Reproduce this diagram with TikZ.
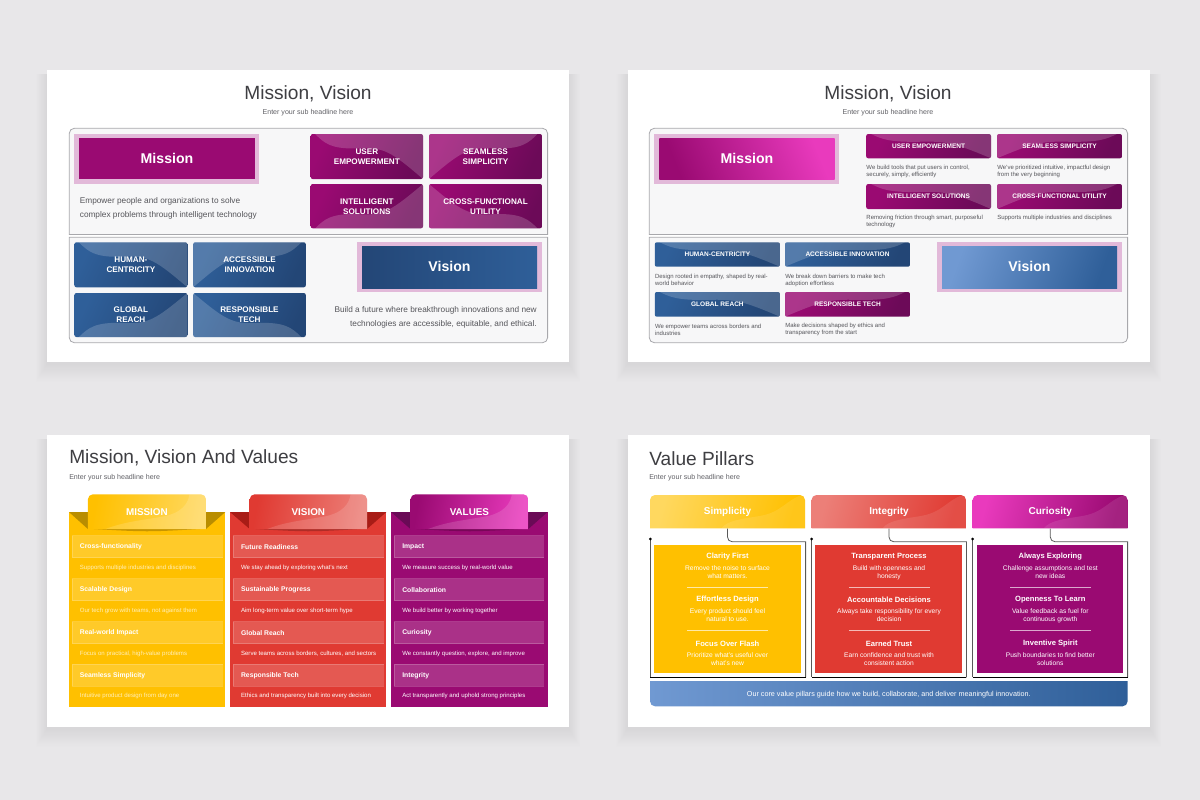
\documentclass[tikz,border=0pt]{standalone}
\usepackage{fontspec}
\setmainfont{Liberation Sans}
\definecolor{bgc}{HTML}{E8E7E9}
\definecolor{ink}{HTML}{3E3E42}
\definecolor{subink}{HTML}{616166}
\definecolor{para}{HTML}{55555A}
\definecolor{boxline}{HTML}{A8A8AC}
\definecolor{boxfill}{HTML}{F7F7F8}
\definecolor{framec}{HTML}{E2B9D9}
\definecolor{purp}{HTML}{9A0A72}
\definecolor{purpd}{HTML}{6C0A58}
\definecolor{purpb}{HTML}{E93ABD}
\definecolor{blu}{HTML}{2F5F99}
\definecolor{blud}{HTML}{234676}
\definecolor{blul}{HTML}{7099D2}
\definecolor{yel}{HTML}{FFC000}
\definecolor{yell}{HTML}{FFD85F}
\definecolor{yeld}{HTML}{B98D00}
\definecolor{redc}{HTML}{E03A32}
\definecolor{redl}{HTML}{EC7F78}
\definecolor{redd}{HTML}{A81C16}
\definecolor{purf}{HTML}{6A0A56}
\definecolor{yeltxt}{HTML}{FFEFB8}
\tikzset{
  ttl/.style={font=\fontsize{14.35}{16}\selectfont,text=ink,inner sep=0pt},
  subttl/.style={font=\fontsize{5.3}{7}\selectfont,text=subink,inner sep=0pt},
  bigh/.style={font=\bfseries\fontsize{10.6}{12}\selectfont,text=white,inner sep=0pt},
  tiletxt/.style={font=\bfseries\fontsize{6.1}{7.5}\selectfont,text=white,inner sep=0pt,align=center},
  tiletxts/.style={font=\bfseries\fontsize{4.9}{7}\selectfont,text=white,inner sep=0pt,align=center},
  leadp/.style={font=\fontsize{6.2}{10.5}\selectfont,text=para,inner sep=0pt},
  descp/.style={font=\fontsize{4.5}{5.25}\selectfont,text=para,inner sep=0pt,align=left,anchor=west},
  tabh/.style={font=\bfseries\fontsize{7.4}{9}\selectfont,text=white,inner sep=0pt},
  rowh/.style={font=\bfseries\fontsize{5.1}{7}\selectfont,text=white,inner sep=0pt,anchor=west},
  rowd/.style={font=\fontsize{4.55}{6}\selectfont,inner sep=0pt,anchor=west},
  pilh/.style={font=\bfseries\fontsize{7.5}{10}\selectfont,text=white,inner sep=0pt},
  itmh/.style={font=\bfseries\fontsize{5.7}{7}\selectfont,text=white,inner sep=0pt},
  itmd/.style={font=\fontsize{5}{6}\selectfont,text=white,inner sep=0pt,align=center},
  barh/.style={font=\fontsize{5.4}{7}\selectfont,text=white,inner sep=0pt},
  gradpurple/.style={left color=purp,right color=purpd,shading angle=65},
  gradblue/.style={left color=blu,right color=blud,shading angle=65},
  conn/.style={draw=black!65,line width=.6pt},
  connb/.style={draw=black,line width=.75pt},
  wave/.style={fill=white,fill opacity=#1,draw=none},
}
% x0, x1, y of rounded side, y of flat side, rx, ry (signed towards the flat side)
\newcommand{\rpath}[6]{(#1,#4) -- (#1,#3+#6) .. controls (#1,#3+.45*#6) and (#1+.45*#5,#3) .. (#1+#5,#3) -- (#2-#5,#3) .. controls (#2-.45*#5,#3) and (#2,#3+.45*#6) .. (#2,#3+#6) -- (#2,#4) -- cycle}
\newcommand{\slide}[4]{%
  \foreach \i in {1,...,16}{\fill[black,opacity=.003] (#1-\i*.7,#2+4) rectangle (#3+\i*.7,#4+\i*1.1+2);}
  \fill[white] (#1,#2) rectangle (#3,#4);}
\newcommand{\wavetile}[8]{%
  \begin{scope}
  \pgfmathsetmacro\tW{#4-#2}\pgfmathsetmacro\tH{#5-#3}
  \clip[rounded corners=1.5pt] (#2,#3) rectangle (#4,#5);
  \shade[#6] (#2,#3) rectangle (#4,#5);
  \pgfmathsetmacro\ox{#2+(1-(#7))/2*\tW}\pgfmathsetmacro\oy{#3+(1-(#8))/2*\tH}
  \pgfmathsetmacro\sx{(#7)*\tW}\pgfmathsetmacro\sy{(#8)*\tH}
  \begin{scope}[shift={(\ox,\oy)},xscale=\sx,yscale=\sy]
   \fill[wave=.18] (.04,0) .. controls (.12,.2) and (.18,.34) .. (.42,.32)
      .. controls (.65,.28) and (.72,.4) .. (1,1) -- (1,0) -- cycle;
  \end{scope}
  \end{scope}}
\newcommand{\tilelabel}[7]{%
  \node[#6] (#1) at ({(#2+#4)/2},{(#3+#5)/2}) {#7};}
\newcommand{\valcol}[9]{%
  \fill[#6] (#2,512) rectangle (#3,707);
  \fill[#7] (#2,512) -- (#4,512) -- (#4,529) -- cycle;
  \fill[#7] (#3,512) -- (#5,512) -- (#5,529) -- cycle;
  \fill[black,opacity=.22] (#4+6,529) .. controls ({(#4+#5)/2},532) .. (#5-6,529) -- cycle;
  \begin{scope}
   \clip \rpath{#4}{#5}{494.3}{529}{5}{5};
   \shade[left color=#6,right color=#8,shading angle=80] (#4,494.3) rectangle (#5,529);
   \pgfmathsetmacro\tW{#5-#4}
   \begin{scope}[shift={(#4,494.3)},xscale=\tW,yscale=34.7]
    \fill[wave=.14] (.15,1) .. controls (.3,.8) and (.45,.75) .. (.62,.65)
      .. controls (.8,.55) and (.85,.25) .. (.86,0) -- (1,0) -- (1,1) -- cycle;
   \end{scope}
  \end{scope}
  \node[tabh] (#1) at ({(#4+#5)/2},511.7) {#9};}
\newcommand{\valrow}[8]{%
  \fill[white,opacity=.16] (#2,#4) rectangle (#3,#4+22);
  \draw[white,opacity=.2,line width=.45pt] (#3,#4) -- (#2,#4) -- (#2,#4+22) -- (#3,#4+22);
  \node[rowh] (#1h) at (#7,#4+11) {#5};
  \node[rowd,text=#8] (#1d) at (#7,#4+32) {#6};}
\newcommand{\pillar}[7]{%
  \begin{scope}
   \clip \rpath{#1}{#2}{495}{528.3}{5}{5};
   \shade[left color=#3,right color=#4,shading angle=75] (#1,495) rectangle (#2,528.3);
   \pgfmathsetmacro\tW{#2-#1}
   \begin{scope}[shift={(#1,495)},xscale=\tW,yscale=33.3]
    \fill[wave=.1] (.46,1) .. controls (.5,.75) and (.6,.72) .. (.72,.62)
      .. controls (.85,.5) and (.88,.15) .. (.98,0) -- (1,0) -- (1,1) -- cycle;
   \end{scope}
  \end{scope}
  \fill[#7] (#5,545) rectangle (#6,673.3);}
\begin{document}
\begin{tikzpicture}[x=.75pt,y=-.75pt]
\useasboundingbox (0,0) rectangle (1200,800);
\fill[bgc] (0,0) rectangle (1200,800);
\slide{47}{70}{569}{362}
\slide{627.5}{70}{1150}{362}
\slide{47}{435}{569}{727}
\slide{627.5}{435}{1150}{727}

%% ---------- Slide 1
\node[ttl] (t1) at (308,93.5) {Mission, Vision};
\node[subttl] (s1) at (308,113) {Enter your sub headline here};
\draw[boxline,fill=boxfill,line width=.6pt] \rpath{69.3}{547.6}{128.3}{234.5}{5}{5};
\draw[boxline,fill=boxfill,line width=.6pt] \rpath{69.3}{547.6}{342.7}{237.3}{5}{-5};
\fill[framec] (74.4,134) rectangle (259,184);
\fill[purp] (79.3,138) rectangle (254.5,179.3);
\node[bigh] (m1) at (167,158) {Mission};
\node[leadp,align=left,anchor=west] (mt1) at (79.6,208) {Empower people and organizations to solve\\complex problems through intelligent technology};
\fill[framec] (356.8,242.3) rectangle (542,292);
\shade[left color=blud,right color=blu] (362,246.3) rectangle (537,288);
\node[bigh] (v1) at (449.5,266.5) {Vision};
\node[leadp,align=right,anchor=east] (vt1) at (537,317.7) {Build a future where breakthrough innovations and new\\technologies are accessible, equitable, and ethical.};
\wavetile{a}{310.7}{134}{423}{179}{gradpurple}{1}{1}
\tilelabel{a1}{310.7}{134}{423}{179}{tiletxt}{USER\\EMPOWERMENT}
\wavetile{a}{429}{134}{542}{179}{gradpurple}{-1}{1}
\tilelabel{a2}{429}{134}{542}{179}{tiletxt}{SEAMLESS\\SIMPLICITY}
\wavetile{a}{310.7}{184}{423}{228.3}{gradpurple}{1}{-1}
\tilelabel{a3}{310.7}{184}{423}{228.6}{tiletxt}{INTELLIGENT\\SOLUTIONS}
\wavetile{a}{429}{184}{542}{228.3}{gradpurple}{-1}{-1}
\tilelabel{a4}{429}{184}{542}{228.6}{tiletxt}{CROSS-FUNCTIONAL\\UTILITY}
\wavetile{a}{74.4}{242.3}{187.4}{287.3}{gradblue}{1}{1}
\tilelabel{b1}{74.4}{242.3}{187.4}{287.3}{tiletxt}{HUMAN-\\CENTRICITY}
\wavetile{a}{193.2}{242.3}{305.8}{287.3}{gradblue}{-1}{1}
\tilelabel{b2}{193.2}{242.3}{305.8}{287.3}{tiletxt}{ACCESSIBLE\\INNOVATION}
\wavetile{a}{74.4}{293}{187.4}{337}{gradblue}{1}{-1}
\tilelabel{b3}{74.4}{293}{187.4}{337}{tiletxt}{GLOBAL\\REACH}
\wavetile{a}{193.2}{293}{305.8}{337}{gradblue}{-1}{-1}
\tilelabel{b4}{193.2}{293}{305.8}{337}{tiletxt}{RESPONSIBLE\\TECH}

%% ---------- Slide 2
\node[ttl] (t2) at (888,93.5) {Mission, Vision};
\node[subttl] (s2) at (888,113) {Enter your sub headline here};
\draw[boxline,fill=boxfill,line width=.6pt] \rpath{649.3}{1127.6}{128.3}{234.5}{5}{5};
\draw[boxline,fill=boxfill,line width=.6pt] \rpath{649.3}{1127.6}{342.7}{237.3}{5}{-5};
\fill[framec] (654.4,134) rectangle (839,184);
\shade[left color=purp,right color=purpb,shading angle=112] (659.3,138) rectangle (834.5,179.3);
\node[bigh] (m2) at (747,158) {Mission};
\fill[framec] (936.8,242.3) rectangle (1122,292);
\shade[left color=blul,right color=blu,shading angle=70] (942,246.3) rectangle (1117,288);
\node[bigh] (v2) at (1029.5,266.5) {Vision};
\wavetile{a}{866.2}{134}{991}{158.3}{gradpurple}{1}{1}
\tilelabel{c1}{866.2}{134}{991}{158.3}{tiletxts}{USER EMPOWERMENT}
\wavetile{a}{997}{134}{1122}{158.3}{gradpurple}{-1}{1}
\tilelabel{c2}{997}{134}{1122}{158.3}{tiletxts}{SEAMLESS SIMPLICITY}
\wavetile{a}{866.2}{184}{991}{209}{gradpurple}{1}{1}
\tilelabel{c3}{866.2}{184}{991}{209}{tiletxts}{INTELLIGENT SOLUTIONS}
\wavetile{a}{997}{184}{1122}{209}{gradpurple}{-1}{1}
\tilelabel{c4}{997}{184}{1122}{209}{tiletxts}{CROSS-FUNCTIONAL UTILITY}
\node[descp] (cd1) at (866.2,171.5) {We build tools that put users in control,\\securely, simply, efficiently};
\node[descp] (cd2) at (997,171.5) {We've prioritized intuitive, impactful design\\from the very beginning};
\node[descp] (cd3) at (866.2,221.8) {Removing friction through smart, purposeful\\technology};
\node[descp] (cd4) at (997,218.3) {Supports multiple industries and disciplines};
\wavetile{a}{654.8}{242.3}{780}{266.7}{gradblue}{1}{1}
\tilelabel{d1}{654.8}{242.3}{780}{266.7}{tiletxts}{HUMAN-CENTRICITY}
\wavetile{a}{785}{242.3}{910}{266.7}{gradblue}{-1}{1}
\tilelabel{d2}{785}{242.3}{910}{266.7}{tiletxts}{ACCESSIBLE INNOVATION}
\wavetile{a}{654.8}{292}{780}{316.7}{gradblue}{1}{1}
\tilelabel{d3}{654.8}{292}{780}{316.7}{tiletxts}{GLOBAL REACH}
\wavetile{a}{785}{292}{910}{316.7}{gradpurple}{-1}{1}
\tilelabel{d4}{785}{292}{910}{316.7}{tiletxts}{RESPONSIBLE TECH}
\node[descp] (dd1) at (654.8,280.2) {Design rooted in empathy, shaped by real-\\world behavior};
\node[descp] (dd2) at (785,280.2) {We break down barriers to make tech\\adoption effortless};
\node[descp] (dd3) at (654.8,329.8) {We empower teams across borders and\\industries};
\node[descp] (dd4) at (785,329.8) {Make decisions shaped by ethics and\\transparency from the start};

%% ---------- Slide 3
\node[ttl,anchor=west] (t3) at (69,458.2) {Mission, Vision And Values};
\node[subttl,anchor=west] (s3) at (69,477.7) {Enter your sub headline here};
\valcol{h1}{69}{225.3}{87.9}{206}{yel}{yeld}{yell}{MISSION}
\valcol{h2}{230}{386.4}{249.7}{367}{redc}{redd}{redl}{VISION}
\valcol{h3}{391}{547.6}{410.5}{528.3}{purp}{purf}{purpb}{VALUES}
\valrow{ra}{72}{222.5}{535.7}{Cross-functionality}{Supports multiple industries and disciplines}{79.6}{yeltxt}
\valrow{rb}{72}{222.5}{578.7}{Scalable Design}{Our tech grow with teams, not against them}{79.6}{yeltxt}
\valrow{rc}{72}{222.5}{621.7}{Real-world Impact}{Focus on practical, high-value problems}{79.6}{yeltxt}
\valrow{rd}{72}{222.5}{664.3}{Seamless Simplicity}{Intuitive product design from day one}{79.6}{yeltxt}
\valrow{sa}{233}{384}{535.7}{Future Readiness}{We stay ahead by exploring what's next}{240.8}{white}
\valrow{sb}{233}{384}{578.7}{Sustainable Progress}{Aim long-term value over short-term hype}{240.8}{white}
\valrow{sc}{233}{384}{621.7}{Global Reach}{Serve teams across borders, cultures, and sectors}{240.8}{white}
\valrow{sd}{233}{384}{664.3}{Responsible Tech}{Ethics and transparency built into every decision}{240.8}{white}
\valrow{ta}{394.3}{543.8}{535.7}{Impact}{We measure success by real-world value}{402}{white}
\valrow{tb}{394.3}{543.8}{578.7}{Collaboration}{We build better by working together}{402}{white}
\valrow{tc}{394.3}{543.8}{621.7}{Curiosity}{We constantly question, explore, and improve}{402}{white}
\valrow{td}{394.3}{543.8}{664.3}{Integrity}{Act transparently and uphold strong principles}{402}{white}

%% ---------- Slide 4
\node[ttl,anchor=west] (t4) at (649,458.2) {Value Pillars};
\node[subttl,anchor=west] (s4) at (649,477.7) {Enter your sub headline here};
\pillar{650}{805}{yell}{yel}{654}{801}{yel}
\pillar{811.5}{966}{redl}{redc}{815}{962.3}{redc}
\pillar{972.6}{1127.6}{purpb}{purp}{976.7}{1123.4}{purp}
\node[pilh,minimum height=33.3*.75pt] (h4a) at (727.5,511.7) {Simplicity};
\node[pilh,minimum height=33.3*.75pt] (h4b) at (889,511.7) {Integrity};
\node[pilh,minimum height=33.3*.75pt] (h4c) at (1050.3,511.7) {Curiosity};
\foreach \p/\l/\r in {h4a/650.3/805.6,h4b/811.5/966.4,h4c/972.6/1127.6}{
  \coordinate (turn) at (\p.south |- 0,541.7);
  \coordinate (turna) at ([yshift=3.5pt]turn);
  \coordinate (turnb) at ([xshift=3.5pt]turn);
  \coordinate (cnr) at (\r,541.7);
  \coordinate (br) at (\r,677.3);
  \coordinate (bl) at (\l,677.3);
  \coordinate (dot) at (\l,539);
  \draw[conn] (\p.south) -- (turna) .. controls ([yshift=1.5pt]turn) and ([xshift=1.5pt]turn) .. (turnb) -- (cnr) -- (br);
  \draw[connb] (br) -- (bl);
  \draw[conn] (bl) -- (dot);
  \fill[black] (dot) circle (1.5);
}
\node[itmh] (i11) at (727.5,556.7) {Clarity First};
\node[itmd] (j11) at (727.5,572.5) {Remove the noise to surface\\what matters.};
\node[itmh] (i12) at (727.5,599.7) {Effortless Design};
\node[itmd] (j12) at (727.5,615.5) {Every product should feel\\natural to use.};
\node[itmh] (i13) at (727.5,643.7) {Focus Over Flash};
\node[itmd] (j13) at (727.5,659.5) {Prioritize what's useful over\\what's new};
\node[itmh] (i21) at (889,556.7) {Transparent Process};
\node[itmd] (j21) at (889,572.5) {Build with openness and\\honesty};
\node[itmh] (i22) at (889,599.7) {Accountable Decisions};
\node[itmd] (j22) at (889,615.5) {Always take responsibility for every\\decision};
\node[itmh] (i23) at (889,643.7) {Earned Trust};
\node[itmd] (j23) at (889,659.5) {Earn confidence and trust with\\consistent action};
\node[itmh] (i31) at (1050.3,556.7) {Always Exploring};
\node[itmd] (j31) at (1050.3,572.5) {Challenge assumptions and test\\new ideas};
\node[itmh] (i32) at (1050.3,599.7) {Openness To Learn};
\node[itmd] (j32) at (1050.3,615.5) {Value feedback as fuel for\\continuous growth};
\node[itmh] (i33) at (1050.3,643.7) {Inventive Spirit};
\node[itmd] (j33) at (1050.3,659.5) {Push boundaries to find better\\solutions};
\foreach \c in {727.5,889,1050.3}{
  \fill[white,opacity=.65] (\c-40.5,586.6) rectangle (\c+40.5,588);
  \fill[white,opacity=.65] (\c-40.5,630) rectangle (\c+40.5,631.4);
}
\shade[left color=blul,right color=blu] \rpath{650}{1127.6}{706.3}{681}{5}{-5};
\node[barh] (bar) at (888.8,694.3) {Our core value pillars guide how we build, collaborate, and deliver meaningful innovation.};
\end{tikzpicture}
\end{document}
